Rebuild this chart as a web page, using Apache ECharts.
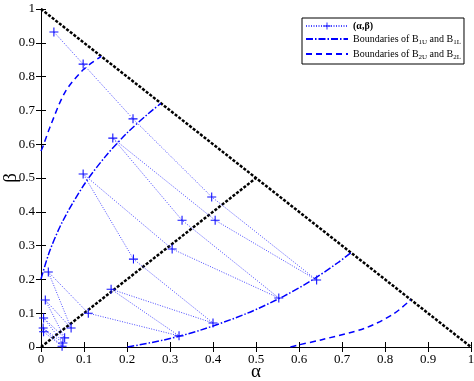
<!DOCTYPE html>
<html><head><meta charset="utf-8">
<script src="https://cdn.jsdelivr.net/npm/echarts@6/dist/echarts.min.js"></script>
<style>html,body{margin:0;padding:0;background:#fff}#c{width:474px;height:381px}</style>
</head><body><div id="c"></div>
<script>
// Iterates (alpha, beta), in order of the dotted polyline
const iterAlpha = [0.030,0.098,0.214,0.397,0.641,0.405,0.167,0.328,0.553,0.305,0.098,0.215,0.400,0.163,0.321,0.110,0.017,0.070,0.010,0.055,0.006,0.051,0.005,0.049,0.006];
const iterBeta  = [0.932,0.837,0.675,0.444,0.198,0.375,0.618,0.375,0.145,0.290,0.512,0.260,0.071,0.171,0.033,0.100,0.222,0.056,0.139,0.027,0.086,0.012,0.056,0.002,0.045];
// Boundary B1U (upper) and B1L (lower, mirrored)
const b1uAlpha = [0.000,0.020,0.050,0.100,0.150,0.200,0.250,0.279];
const b1uBeta  = [0.201,0.283,0.371,0.480,0.564,0.633,0.691,0.721];
const b1lAlpha = [0.201,0.283,0.371,0.480,0.564,0.633,0.691,0.721];
const b1lBeta  = [0.000,0.020,0.050,0.100,0.150,0.200,0.250,0.279];
// Boundary B2U and B2L
const b2uAlpha = [0.000,0.005,0.021,0.056,0.098,0.140];
const b2uBeta  = [0.580,0.595,0.651,0.754,0.820,0.860];
const b2lAlpha = [0.580,0.595,0.651,0.754,0.820,0.860];
const b2lBeta  = [0.000,0.005,0.021,0.056,0.098,0.140];
// Reference lines
const simplexAlpha = [0, 1];
const simplexBeta  = [1, 0];
const diagAlpha = [0, 0.5];
const diagBeta  = [0, 0.5];

const zip = (a,b) => a.map((v,i)=>[v,b[i]]);
const FONT = 'Liberation Serif';
const plus = 'path://M-1,-0.12H-0.12V-1H0.12V-0.12H1V0.12H0.12V1H-0.12V0.12H-1Z';
const dashDot = [7,2,1.5,2];

const axisCommon = {
  type:'value', min:0, max:1, interval:0.1,
  splitLine:{show:false},
  axisLine:{show:true, lineStyle:{color:'#000', width:1}},
  axisTick:{show:true, inside:true, length:5, lineStyle:{color:'#000'}},
};
const chart = echarts.init(document.getElementById('c'), null, {renderer:'canvas'});
chart.setOption({
  animation:false,
  backgroundColor:'#fff',
  grid:{left:41, right:3, top:9, bottom:34, containLabel:false, outerBoundsMode:'none'},
  xAxis:[
    Object.assign({}, axisCommon, {position:'bottom', name:'α', nameLocation:'middle', nameGap:16, nameMoveOverlap:false,
      nameTextStyle:{fontFamily:FONT, fontSize:19, color:'#000'},
      axisLabel:{fontFamily:FONT, fontSize:13, color:'#000', margin:6}}),
    Object.assign({}, axisCommon, {position:'top', axisLabel:{show:false}})
  ],
  yAxis:[
    Object.assign({}, axisCommon, {position:'left', name:'β', nameLocation:'middle', nameGap:20, nameRotate:90, nameMoveOverlap:false,
      nameTextStyle:{fontFamily:FONT, fontSize:19, color:'#000'},
      axisLabel:{fontFamily:FONT, fontSize:13, color:'#000', margin:6}}),
    Object.assign({}, axisCommon, {position:'right', axisLabel:{show:false}})
  ],
  legend:{
    orient:'vertical', left:302, top:18,
    backgroundColor:'#fff', borderColor:'#000', borderWidth:1,
    padding:[3,3,3,3], itemWidth:42, itemHeight:9, itemGap:3,
    data:['iter', {name:'b1', itemStyle:{opacity:0}}, {name:'b2', itemStyle:{opacity:0}}],
    formatter: function(n){
      if(n==='iter') return '{b|(α,β)}';
      if(n==='b1') return 'Boundaries of B{s|1U} and B{s|1L}';
      return 'Boundaries of B{s|2U} and B{s|2L}';
    },
    textStyle:{fontFamily:FONT, fontSize:10, color:'#000',
      rich:{s:{fontFamily:FONT, fontSize:7, padding:[7,0,0,0], color:'#000'},
            b:{fontFamily:FONT, fontSize:10, fontWeight:'bold', color:'#000'}}}
  },
  series:[
    {type:'line', name:'simplex', data:zip(simplexAlpha,simplexBeta), symbol:'none',
      lineStyle:{color:'#000', width:2.5, type:[3,1.6]}, z:1},
    {type:'line', name:'diag', data:zip(diagAlpha,diagBeta), symbol:'none',
      lineStyle:{color:'#000', width:2.5, type:[3,1.6]}, z:1},
    {type:'line', name:'b1', data:zip(b1uAlpha,b1uBeta), symbol:'none', smooth:0.3,
      lineStyle:{color:'#0000ff', width:1.5, type:dashDot}, itemStyle:{color:'#0000ff'}, z:2},
    {type:'line', name:'b1', data:zip(b1lAlpha,b1lBeta), symbol:'none', smooth:0.3,
      lineStyle:{color:'#0000ff', width:1.5, type:dashDot}, itemStyle:{color:'#0000ff'}, z:2},
    {type:'line', name:'b2', data:zip(b2uAlpha,b2uBeta), symbol:'none', smooth:0.3,
      lineStyle:{color:'#0000ff', width:1.5, type:[6,4]}, itemStyle:{color:'#0000ff'}, z:2},
    {type:'line', name:'b2', data:zip(b2lAlpha,b2lBeta), symbol:'none', smooth:0.3,
      lineStyle:{color:'#0000ff', width:1.5, type:[6,4]}, itemStyle:{color:'#0000ff'}, z:2},
    {type:'line', name:'iter', data:zip(iterAlpha,iterBeta), symbol:plus, symbolSize:9,
      lineStyle:{color:'#4a4aff', width:1, type:[1,1.5]}, itemStyle:{color:'#1010ff'}, z:3}
  ]
});
</script></body></html>
